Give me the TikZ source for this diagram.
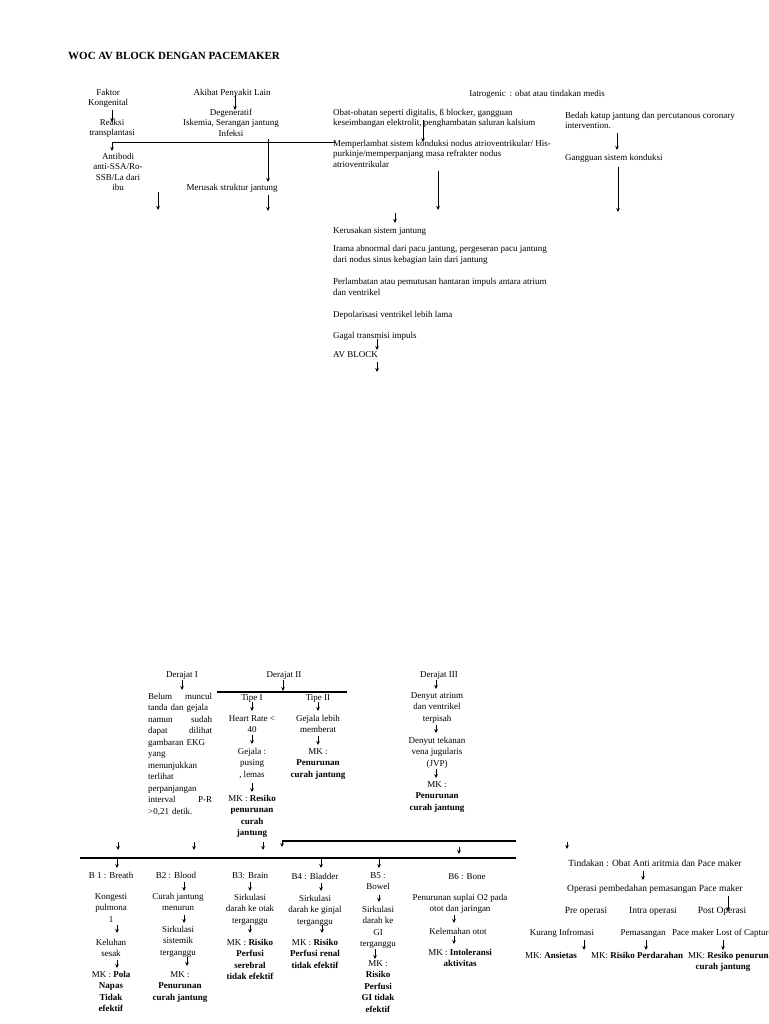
\documentclass[tikz,border=0pt]{standalone}
\usepackage{fontspec}
\setmainfont{Liberation Serif}
\usetikzlibrary{arrows.meta}
\newcommand\myarrow[4]{\coordinate (#1a) at (#2,#3); \coordinate (#1b) at (#2,#4); \draw[arr] (#1a) -- (#1b);}
\begin{document}
\begin{tikzpicture}[x=1pt,y=-1pt,
  base/.style={inner sep=0pt, anchor=north, align=center, yshift=4pt, execute at begin node=\rule{0pt}{7pt}},
  up/.style={base, font=\fontsize{9}{10.3}\selectfont},
  upl/.style={base, font=\fontsize{9}{10.3}\selectfont, anchor=north west, align=left},
  midl/.style={base, font=\fontsize{9}{11}\selectfont, anchor=north west, align=left},
  lo/.style={base, font=\fontsize{9}{11.5}\selectfont},
  lol/.style={base, font=\fontsize{9}{11.5}\selectfont, anchor=north west, align=left},
  rt/.style={base, font=\fontsize{9.5}{11.5}\selectfont},
  rtl/.style={base, font=\fontsize{9.5}{11.5}\selectfont, anchor=north west, align=left},
  arr/.style={-{Stealth[length=4pt,width=3.6pt]}, line width=0.75pt},
  hline/.style={line width=0.9pt},
  thick line/.style={line width=1.8pt}]
\useasboundingbox (0,0) rectangle (768,1024);
\fill[white] (0,0) rectangle (768,1024);

% title
\node[font=\fontsize{11}{13}\selectfont\bfseries, inner sep=0pt, anchor=west] (title) at (68,56) {WOC AV BLOCK DENGAN PACEMAKER};

% ---------- top section ----------
\node[up] (fk) at (108,93) {Faktor\\Kongenital};
\myarrow{a1}{112}{110}{122}
\node[up] (rt) at (112,123) {Reaksi\\transplantasi};
\coordinate (l1a) at (112,142); \coordinate (l1b) at (335,142);
\draw[hline] (l1a) -- (l1b);
\myarrow{a2}{112}{142}{151}
\node[up] (ab) at (118,157) {Antibodi\\anti-SSA/Ro-\\SSB/La dari\\ibu};
\myarrow{a3}{158}{192}{210}

\node[up] (apl) at (232,92) {Akibat Penyakit Lain};
\myarrow{a4}{235}{95}{110}
\node[up] (deg) at (231,113) {Degeneratif\\Iskemia, Serangan jantung\\Infeksi};
\myarrow{a5}{268}{139}{182}
\node[up] (msj) at (232,187) {Merusak struktur jantung};
\myarrow{a6}{268}{195}{211}

\node[up] (iat) at (537,93) {Iatrogenic \,: obat atau tindakan medis};
\node[upl] (obat) at (333,113) {Obat-obatan seperti digitalis, ß blocker, gangguan\\keseimbangan elektrolit, penghambatan saluran kalsium};
\myarrow{a7}{423}{120}{142}
\node[upl] (mem) at (333,144) {Memperlambat sistem konduksi nodus atrioventrikular/ His-\\purkinje/memperpanjang masa refrakter nodus\\atrioventrikular};
\myarrow{a8}{438}{171}{210}
\node[upl] (bed) at (565,116) {Bedah katup jantung dan percutanous coronary\\intervention.};
\myarrow{a9}{617}{133}{150}
\node[upl] (gsk) at (565,157) {Gangguan sistem konduksi};
\myarrow{a10}{618}{167}{212}

% ---------- middle ----------
\myarrow{a11}{395}{213}{223}
\node[midl] (ker) at (333,230) {Kerusakan sistem jantung};
\node[midl] (ira) at (333,249) {Irama abnormal dari pacu jantung, pergeseran pacu jantung\\dari nodus sinus kebagian lain dari jantung};
\node[midl] (per) at (333,282) {Perlambatan atau pemutusan hantaran impuls antara atrium\\dan ventrikel};
\node[midl] (dep) at (333,314) {Depolarisasi ventrikel lebih lama};
\node[midl] (gag) at (333,335) {Gagal transmisi impuls};
\myarrow{a12}{377}{339}{350}
\node[midl] (avb) at (333,354) {AV BLOCK};
\myarrow{a13}{377}{362}{372}

% ---------- derajat ----------
\node[lo] (d1) at (182,674) {Derajat I};
\myarrow{b1}{182}{680}{690}
\node[lo, anchor=north west, align=left, text width=64pt] (d1t) at (148,696)
 {Belum\hfill muncul\\tanda dan gejala\\namun\hfill sudah\\dapat\hfill dilihat\\gambaran EKG\\yang\\menunjukkan\\terlihat\\perpanjangan\\interval\hfill P-R\\>0,21 detik.};

\node[lo] (d2) at (284,674) {Derajat II};
\myarrow{b2}{283}{680}{691}
\coordinate (tla) at (217,692); \coordinate (tlb) at (347,692);
\node[lo] (t1) at (252,697) {Tipe I};
\node[lo] (t2) at (318,697) {Tipe II};
\draw[line width=1.5pt] (tla) -- (tlb);
\myarrow{b3}{252}{702}{711}
\node[lo] (hr) at (252,719) {Heart Rate <\\40};
\myarrow{b4}{252}{735}{744}
\node[lo] (gj) at (252,752) {Gejala :\\pusing\\, lemas};
\myarrow{b5}{252}{783}{792}
\node[lo] (mk1) at (252,799) {MK : \textbf{Resiko}\\\textbf{penurunan}\\\textbf{curah}\\\textbf{jantung}};
\myarrow{b6}{318}{702}{711}
\node[lo] (gl) at (318,719) {Gejala lebih\\memberat};
\myarrow{b7}{318}{736}{745}
\node[lo] (mk2) at (318,752) {MK :\\\textbf{Penurunan}\\\textbf{curah jantung}};

\node[lo] (d3) at (439,674) {Derajat III};
\myarrow{b8}{436}{680}{689}
\node[lo] (da) at (437,696) {Denyut atrium\\dan ventrikel\\terpisah};
\myarrow{b9}{436}{725}{733}
\node[lo] (dt) at (437,741) {Denyut tekanan\\vena jugularis\\(JVP)};
\myarrow{b10}{436}{769}{778}
\node[lo] (mk3) at (437,785) {MK :\\\textbf{Penurunan}\\\textbf{curah jantung}};

% ---------- connecting lines ----------
\myarrow{c1}{118}{842}{850}
\myarrow{c2}{194}{842}{850}
\myarrow{c3}{263}{842}{850}
\myarrow{c4}{459}{847}{854}
\myarrow{c5}{567}{842}{849}
\coordinate (ula) at (516,841); \coordinate (ulc) at (282,841); \coordinate (ulb) at (282,847);
\draw[line width=1.3pt] (ula) -- (ulc);
\draw[arr] (ulc) -- (ulb);
\coordinate (tha) at (80,858); \coordinate (thb) at (516,858);
\draw[thick line] (tha) -- (thb);

% ---------- B columns ----------
\myarrow{e1}{117}{859}{868}
\node[lo] (b1) at (111,875) {B 1 : Breath};
\node[lo] (b1a) at (111,897) {Kongesti\\pulmona\\1};
\myarrow{e2}{117}{925}{933}
\node[lo] (b1b) at (111,943) {Keluhan\\sesak};
\myarrow{e3}{117}{960}{968}
\node[lo] (b1c) at (111,975) {MK : \textbf{Pola}\\\textbf{Napas}\\\textbf{Tidak}\\\textbf{efektif}};

\node[lo] (b2) at (176,875) {B2 : Blood};
\myarrow{e4}{184}{882}{891}
\node[lo] (b2a) at (178,897) {Curah jantung\\menurun};
\myarrow{e5}{184}{915}{923}
\node[lo] (b2b) at (178,930) {Sirkulasi\\sistemik\\terganggu};
\myarrow{e6}{187}{957}{966}
\node[lo] (b2c) at (180,975) {MK :\\\textbf{Penurunan}\\\textbf{curah jantung}};

\node[lo] (b3) at (250,875) {B3: Brain};
\myarrow{e7}{250}{882}{891}
\node[lo] (b3a) at (250,898) {Sirkulasi\\darah ke otak\\terganggu};
\myarrow{e8}{250}{925}{933}
\node[lo] (b3b) at (250,943) {MK : \textbf{Risiko}\\\textbf{Perfusi}\\\textbf{serebral}\\\textbf{tidak efektif}};

\myarrow{e9}{321}{859}{868}
\node[lo] (b4) at (315,876) {B4 : Bladder};
\myarrow{e10}{321}{883}{891}
\node[lo] (b4a) at (315,899) {Sirkulasi\\darah ke ginjal\\terganggu};
\myarrow{e11}{322}{925}{933}
\node[lo] (b4b) at (315,943) {MK : \textbf{Risiko}\\\textbf{Perfusi renal}\\\textbf{tidak efektif}};

\myarrow{e12}{379}{859}{868}
\node[lo] (b5) at (378,876) {B5 :\\Bowel};
\myarrow{e13}{379}{895}{902}
\node[lo] (b5a) at (378,910) {Sirkulasi\\darah ke\\GI\\terganggu};
\myarrow{e14}{375}{949}{959}
\node[lo] (b5b) at (378,964) {MK :\\\textbf{Risiko}\\\textbf{Perfusi}\\\textbf{GI tidak}\\\textbf{efektif}};

\node[lo] (b6) at (467,876) {B6 : Bone};
\node[lo] (b6a) at (460,898) {Penurunan suplai O2 pada\\otot dan jaringan};
\myarrow{e15}{454}{915}{923}
\node[lo] (b6b) at (458,931) {Kelemahan otot};
\myarrow{e16}{454}{936}{944}
\node[lo] (b6c) at (460,953) {MK : \textbf{Intoleransi}\\\textbf{aktivitas}};

% ---------- tindakan ----------
\node[rt] (tin) at (655,863) {Tindakan : Obat Anti aritmia dan Pace maker};
\myarrow{f1}{643}{871}{880}
\node[rt] (ope) at (655,888) {Operasi pembedahan pemasangan Pace maker};
\node[rt] (pre) at (586,910) {Pre operasi};
\node[rt] (intra) at (653,910) {Intra operasi};
\node[rt] (post) at (722,910) {Post Operasi};
\myarrow{f2}{728}{896}{911}
\node[lo] (kur) at (562,932) {Kurang Infromasi};
\node[lo] (pem) at (643,932) {Pemasangan};
\node[lol] (pml) at (672,932) {Pace maker Lost of Capture};
\myarrow{f3}{584}{940}{950}
\myarrow{f4}{646}{940}{950}
\myarrow{f5}{723}{940}{950}
\node[lol] (mka) at (525,955) {MK: \textbf{Ansietas}};
\node[lol] (mkb) at (591,955) {MK: \textbf{Risiko Perdarahan}};
\node[lol] (mkc) at (688,955) {MK: \textbf{Resiko penurunan}};
\node[lo] (mkd) at (723,966) {\textbf{curah jantung}};
\end{tikzpicture}
\end{document}
